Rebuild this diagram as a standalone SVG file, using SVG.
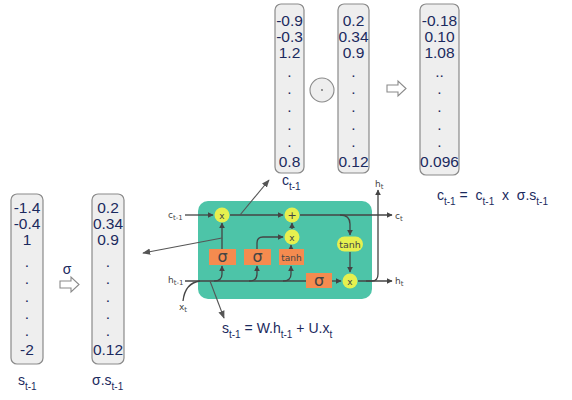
<svg xmlns="http://www.w3.org/2000/svg" width="572" height="400" viewBox="0 0 572 400">
<defs>
<style>
.vec{fill:#eeeeee;stroke:#8a8a8a;stroke-width:1.2}
.num{font-family:"Liberation Sans",Arial,sans-serif;font-size:15.5px;fill:#1b2a5e;text-anchor:middle}
.lbl{font-family:"Liberation Sans",Arial,sans-serif;font-size:14px;fill:#1b2a5e}
.sm{font-family:"DejaVu Sans","Liberation Sans",sans-serif;font-size:9px;fill:#444}
.ln{fill:none;stroke:#444;stroke-width:1.3}
.arr{fill:none;stroke:#555;stroke-width:1.1}
.node{fill:#e6f04f}
.gate{fill:#f58b4f}
.gt{font-family:"DejaVu Sans","Liberation Sans",sans-serif;fill:#444;text-anchor:middle}
.hol{fill:#fff;stroke:#8a8a8a;stroke-width:1.1}
</style>
<marker id="ah" viewBox="0 0 10 10" refX="9" refY="5" markerWidth="6" markerHeight="6" orient="auto" markerUnits="userSpaceOnUse"><path d="M0,0 L10,5 L0,10 z" fill="#444"/></marker>
<marker id="ah2" viewBox="0 0 10 10" refX="9" refY="5" markerWidth="8" markerHeight="8" orient="auto" markerUnits="userSpaceOnUse"><path d="M0,1 L10,5 L0,9 z" fill="#555"/></marker>
</defs>

<g id="vec-s">
<rect class="vec" x="11" y="194" width="32" height="170" rx="6"/>
<text class="num"><tspan x="27" y="213">-1.4</tspan><tspan x="27" y="229">-0.4</tspan><tspan x="27" y="245">1</tspan><tspan x="27" y="267">.</tspan><tspan x="27" y="284">.</tspan><tspan x="27" y="302">.</tspan><tspan x="27" y="319">.</tspan><tspan x="27" y="336">.</tspan><tspan x="27" y="355">-2</tspan></text>
<text class="lbl" x="18" y="385">s<tspan font-size="10" dy="5">t-1</tspan></text>
</g>

<g id="sigma-arrow">
<text class="lbl" x="67" y="274" text-anchor="middle">σ</text>
<path class="hol" d="M60,281 H71 V277 L79,284.5 L71,292 V288 H60 z"/>
</g>

<g id="vec-sig">
<rect class="vec" x="92" y="194" width="32" height="170" rx="6"/>
<text class="num"><tspan x="108" y="213">0.2</tspan><tspan x="108" y="229">0.34</tspan><tspan x="108" y="245">0.9</tspan><tspan x="108" y="267">.</tspan><tspan x="108" y="284">.</tspan><tspan x="108" y="302">.</tspan><tspan x="108" y="319">.</tspan><tspan x="108" y="336">.</tspan><tspan x="108" y="355">0.12</tspan></text>
<text class="lbl" x="92" y="385">σ.s<tspan font-size="10" dy="5">t-1</tspan></text>
</g>

<g id="vec-c">
<rect class="vec" x="275" y="4" width="29" height="169" rx="6"/>
<text class="num"><tspan x="289.5" y="26">-0.9</tspan><tspan x="289.5" y="42">-0.3</tspan><tspan x="289.5" y="58">1.2</tspan><tspan x="289.5" y="77">.</tspan><tspan x="289.5" y="94">.</tspan><tspan x="289.5" y="112">.</tspan><tspan x="289.5" y="130">.</tspan><tspan x="289.5" y="147">.</tspan><tspan x="289.5" y="167">0.8</tspan></text>
<text class="lbl" x="282" y="185">c<tspan font-size="10" dy="5">t-1</tspan></text>
</g>

<g id="dot-op">
<circle cx="322" cy="90" r="12" fill="#eeeeee" stroke="#8a8a8a" stroke-width="1.1"/>
<circle cx="322" cy="90" r="0.9" fill="#666"/>
</g>

<g id="vec-sig2">
<rect class="vec" x="338" y="4" width="31" height="169" rx="6"/>
<text class="num"><tspan x="353.5" y="26">0.2</tspan><tspan x="353.5" y="42">0.34</tspan><tspan x="353.5" y="58">0.9</tspan><tspan x="353.5" y="77">.</tspan><tspan x="353.5" y="94">.</tspan><tspan x="353.5" y="112">.</tspan><tspan x="353.5" y="130">.</tspan><tspan x="353.5" y="147">.</tspan><tspan x="353.5" y="167">0.12</tspan></text>
</g>

<g id="result-arrow">
<path class="hol" d="M387,85 H398 V81 L406,88.5 L398,96 V92 H387 z"/>
</g>

<g id="vec-res">
<rect class="vec" x="420" y="4" width="39" height="171" rx="6"/>
<text class="num"><tspan x="439.5" y="26">-0.18</tspan><tspan x="439.5" y="42">0.10</tspan><tspan x="439.5" y="58">1.08</tspan><tspan x="439.5" y="77">..</tspan><tspan x="439.5" y="94">.</tspan><tspan x="439.5" y="112">.</tspan><tspan x="439.5" y="130">.</tspan><tspan x="439.5" y="147">.</tspan><tspan x="439.5" y="167">0.096</tspan></text>
</g>

<g id="eq-c">
<text class="lbl" x="437" y="200" xml:space="preserve" style="white-space:pre">c<tspan font-size="10" dy="5">t-1</tspan><tspan dy="-5"> =  c</tspan><tspan font-size="10" dy="5">t-1</tspan><tspan dy="-5">  x  σ.s</tspan><tspan font-size="10" dy="5">t-1</tspan></text>
</g>

<g id="eq-s">
<text class="lbl" x="222" y="333">s<tspan font-size="10" dy="5">t-1</tspan><tspan dy="-5"> = W.h</tspan><tspan font-size="10" dy="5">t-1</tspan><tspan dy="-5"> + U.x</tspan><tspan font-size="10" dy="5">t</tspan></text>
</g>

<g id="lstm-cell">
<rect x="198" y="201" width="174" height="98" rx="10" fill="#4dc4a8"/>
</g>

<g id="connectors">
<path class="ln" d="M185,215 H213" marker-end="url(#ah)"/>
<path class="ln" d="M230,215 H283" marker-end="url(#ah)"/>
<path class="ln" d="M300,215 H392" marker-end="url(#ah)"/>
<path class="ln" d="M340,215 Q350,215 350,224 V235" marker-end="url(#ah)"/>
<path class="ln" d="M350,252 V272" marker-end="url(#ah)"/>
<path class="ln" d="M185,281 H306"/>
<path class="ln" d="M332,281 H341" marker-end="url(#ah)"/>
<path class="ln" d="M358,281 H392" marker-end="url(#ah)"/>
<path class="ln" d="M366,281 H372 Q378,281 378,274 V190" marker-end="url(#ah)"/>
<path class="ln" d="M214,281 Q222,281 222,274 V266" marker-end="url(#ah)"/>
<path class="ln" d="M249,281 Q257,281 257,274 V266" marker-end="url(#ah)"/>
<path class="ln" d="M283,281 Q291,281 291,274 V266" marker-end="url(#ah)"/>
<path class="ln" d="M222,249 V223" marker-end="url(#ah)"/>
<path class="ln" d="M257,249 V243 Q257,237 263,237 H283" marker-end="url(#ah)"/>
<path class="ln" d="M291,249 V245" marker-end="url(#ah)"/>
<path class="ln" d="M292,229 V223" marker-end="url(#ah)"/>
<path class="ln" d="M183,301 Q185,283 200,281"/>
<path class="arr" d="M240,215 L269,180" marker-end="url(#ah2)"/>
<path class="arr" d="M222,238 L143,253" marker-end="url(#ah2)"/>
<path class="arr" d="M210,281 L224,318" marker-end="url(#ah2)"/>
</g>

<g id="cell-labels">
<text class="sm" x="168" y="218">c<tspan font-size="7" dy="2">t-1</tspan></text>
<text class="sm" x="168" y="283">h<tspan font-size="7" dy="2">t-1</tspan></text>
<text class="sm" x="179" y="310">x<tspan font-size="7" dy="2">t</tspan></text>
<text class="sm" x="395" y="219">c<tspan font-size="7" dy="2">t</tspan></text>
<text class="sm" x="395" y="284">h<tspan font-size="7" dy="2">t</tspan></text>
<text class="sm" x="375" y="187">h<tspan font-size="7" dy="2">t</tspan></text>
</g>

<g id="mul1"><circle class="node" cx="222" cy="215" r="7.5"/><text class="gt" x="222" y="218.5" font-size="9">x</text></g>
<g id="plus"><circle class="node" cx="292" cy="215" r="7.5"/><text class="gt" x="292" y="219" font-size="11">+</text></g>
<g id="mul2"><circle class="node" cx="292" cy="237" r="7.5"/><text class="gt" x="292" y="240.5" font-size="9">x</text></g>
<g id="tanh-oval"><rect class="node" x="337" y="236.5" width="26" height="15" rx="7.5"/><text class="gt" x="350" y="247.5" font-size="9.5">tanh</text></g>
<g id="mul3"><circle class="node" cx="350" cy="281" r="7.5"/><text class="gt" x="350" y="284.5" font-size="9">x</text></g>
<g id="sig1"><rect class="gate" x="209" y="249" width="27" height="16"/><text class="gt" x="222.5" y="262" font-size="16">σ</text></g>
<g id="sig2"><rect class="gate" x="244" y="249" width="27" height="16"/><text class="gt" x="257.5" y="262" font-size="16">σ</text></g>
<g id="tanh-gate"><rect class="gate" x="279" y="249" width="25" height="16"/><text class="gt" x="291.5" y="260.5" font-size="9">tanh</text></g>
<g id="sig3"><rect class="gate" x="306" y="273" width="26" height="15"/><text class="gt" x="319" y="285.5" font-size="16">σ</text></g>
</svg>
